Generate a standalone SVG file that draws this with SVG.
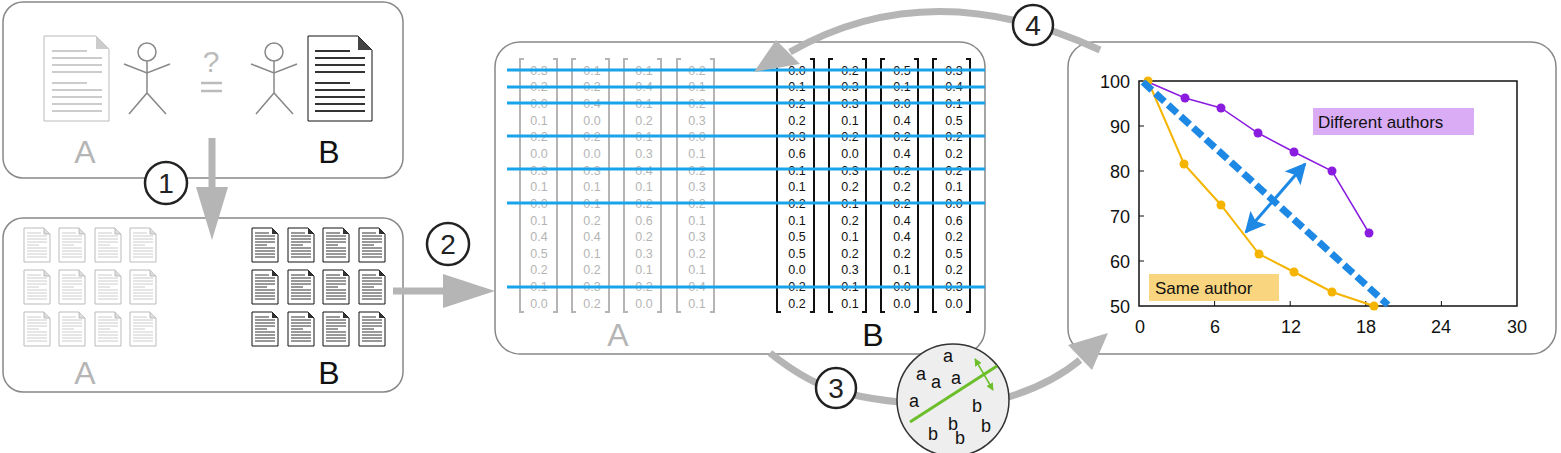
<svg xmlns="http://www.w3.org/2000/svg" width="1561" height="453" viewBox="0 0 1561 453">
<style>
.panel{fill:#fff;stroke:#888;stroke-width:1.5}
.t{font-family:"Liberation Sans",Arial,sans-serif}
.ga{fill:#b5b5b5}
.num{font-family:"Liberation Sans",Arial,sans-serif;font-size:12.5px;text-anchor:middle}
.big{font-family:"Liberation Sans",Arial,sans-serif;font-size:32px;text-anchor:middle}
.step{fill:#fff;stroke:#222;stroke-width:2.5}
.stepT{font-family:"Liberation Sans",Arial,sans-serif;font-size:28px;text-anchor:middle;fill:#222}
.flow{fill:none;stroke:#b5b5b5;stroke-width:7}
.bl{stroke:#19a3ea;stroke-width:3}
.brA{fill:none;stroke:#b5b5b5;stroke-width:2}
.brB{fill:none;stroke:#111;stroke-width:2}
.ax{font-family:"Liberation Sans",Arial,sans-serif;font-size:18px;fill:#111}
.lt{font-family:"Liberation Sans",Arial,sans-serif;font-size:17px;fill:#111}
</style>
<defs>
<g id="sdA"><path d="M0,0H20L26,6V34H0Z" fill="#fff" stroke="#bbb"/><path d="M20,0V6H26" fill="#ddd" stroke="#bbb"/><path d="M3,5H17M3,8H23M3,11H23M3,14H23M3,17H15M3,20H23M3,23H23M3,26H23M3,29H23" stroke="#ccc" stroke-width="1"/></g>
<g id="sdB"><path d="M0,0H20L26,6V34H0Z" fill="#fff" stroke="#111"/><path d="M20,0L26,6H20Z" fill="#333"/><path d="M3,5H17M3,8H23M3,11H23M3,14H23M3,17H15M3,20H23M3,23H23M3,26H23M3,29H23" stroke="#333" stroke-width="1"/></g>
<marker id="ah" viewBox="0 0 10 10" refX="9" refY="5" markerWidth="7" markerHeight="7" orient="auto-start-reverse"><path d="M0,0L10,5L0,10L2,5Z" fill="#1e88e5"/></marker>
<marker id="gh" viewBox="0 0 10 10" refX="9" refY="5" markerWidth="5" markerHeight="5" orient="auto-start-reverse"><path d="M0,0L10,5L0,10Z" fill="#6cbf2a"/></marker>
</defs>

<g id="panel-input">
<rect class="panel" x="3" y="2" width="400" height="176" rx="20"/>
<path d="M44,36H96L109,49V121H44Z" fill="#fff" stroke="#bbb"/><path d="M96,36V49H109Z" fill="#ccc"/>
<path d="M52,51H87M52,58H102M52,65H102M52,72H102M52,83H87M52,90H102M52,97H102M52,104H102M52,111H102" stroke="#ccc" stroke-width="2"/>
<g stroke="#888" stroke-width="1.5" fill="none"><circle cx="147" cy="52" r="9"/><path d="M147,61V93M124,64L147,73L170,64M129,114L147,93L166,114"/></g>
<text class="t" x="211" y="72" font-size="30" text-anchor="middle" fill="#bbb">?</text>
<path d="M201,83H222M201,91H222" stroke="#bbb" stroke-width="2.5"/>
<g stroke="#888" stroke-width="1.5" fill="none"><circle cx="274" cy="52" r="9"/><path d="M274,61V93M251,64L274,73L297,64M256,114L274,93L293,114"/></g>
<path d="M308,36H358L372,50V121H308Z" fill="#fff" stroke="#111"/><path d="M358,36L372,50H358Z" fill="#444"/>
<path d="M315,51H350M315,58H365M315,65H365M315,72H365M315,83H350M315,90H365M315,97H365M315,104H365M315,111H365" stroke="#333" stroke-width="2"/>
<text class="big ga" x="85" y="163">A</text><text class="big" x="329" y="163" fill="#111">B</text>
</g>

<g id="panel-docs">
<rect class="panel" x="3" y="218" width="400" height="174" rx="20"/>
<use href="#sdA" x="24" y="228"/><use href="#sdA" x="59" y="228"/><use href="#sdA" x="95" y="228"/><use href="#sdA" x="130" y="228"/>
<use href="#sdA" x="24" y="270"/><use href="#sdA" x="59" y="270"/><use href="#sdA" x="95" y="270"/><use href="#sdA" x="130" y="270"/>
<use href="#sdA" x="24" y="312"/><use href="#sdA" x="59" y="312"/><use href="#sdA" x="95" y="312"/><use href="#sdA" x="130" y="312"/>
<use href="#sdB" x="252" y="228"/><use href="#sdB" x="288" y="228"/><use href="#sdB" x="323" y="228"/><use href="#sdB" x="359" y="228"/>
<use href="#sdB" x="252" y="270"/><use href="#sdB" x="288" y="270"/><use href="#sdB" x="323" y="270"/><use href="#sdB" x="359" y="270"/>
<use href="#sdB" x="252" y="312"/><use href="#sdB" x="288" y="312"/><use href="#sdB" x="323" y="312"/><use href="#sdB" x="359" y="312"/>
<text class="big ga" x="85" y="384">A</text><text class="big" x="329" y="384" fill="#111">B</text>
</g>

<g id="panel-matrix">
<rect class="panel" x="495" y="42" width="490" height="312" rx="25"/>
<g class="brA">
<path d="M524,59H520V312H524M553,59H557V312H553"/><path d="M576,59H572V312H576M605,59H609V312H605"/>
<path d="M628,59H624V312H628M657,59H661V312H657"/><path d="M681,59H677V312H681M710,59H714V312H710"/>
</g>
<g class="brB">
<path d="M781,59H777V312H781M810,59H814V312H810"/><path d="M833,59H829V312H833M862,59H866V312H862"/>
<path d="M885,59H881V312H885M914,59H918V312H914"/><path d="M937,59H933V312H937M966,59H970V312H966"/>
</g>
<g class="num" fill="#b5b5b5">
<text x="539" y="75">0.3</text><text x="539" y="91">0.2</text><text x="539" y="108">0.0</text><text x="539" y="125">0.1</text><text x="539" y="141">0.2</text><text x="539" y="158">0.0</text><text x="539" y="175">0.3</text><text x="539" y="191">0.1</text><text x="539" y="208">0.0</text><text x="539" y="225">0.1</text><text x="539" y="241">0.4</text><text x="539" y="258">0.5</text><text x="539" y="274">0.2</text><text x="539" y="291">0.1</text><text x="539" y="308">0.0</text>
<text x="592" y="75">0.1</text><text x="592" y="91">0.2</text><text x="592" y="108">0.4</text><text x="592" y="125">0.0</text><text x="592" y="141">0.2</text><text x="592" y="158">0.0</text><text x="592" y="175">0.3</text><text x="592" y="191">0.1</text><text x="592" y="208">0.1</text><text x="592" y="225">0.2</text><text x="592" y="241">0.4</text><text x="592" y="258">0.1</text><text x="592" y="274">0.2</text><text x="592" y="291">0.3</text><text x="592" y="308">0.2</text>
<text x="644" y="75">0.1</text><text x="644" y="91">0.4</text><text x="644" y="108">0.1</text><text x="644" y="125">0.2</text><text x="644" y="141">0.1</text><text x="644" y="158">0.3</text><text x="644" y="175">0.4</text><text x="644" y="191">0.1</text><text x="644" y="208">0.2</text><text x="644" y="225">0.6</text><text x="644" y="241">0.2</text><text x="644" y="258">0.3</text><text x="644" y="274">0.1</text><text x="644" y="291">0.2</text><text x="644" y="308">0.0</text>
<text x="697" y="75">0.2</text><text x="697" y="91">0.1</text><text x="697" y="108">0.2</text><text x="697" y="125">0.3</text><text x="697" y="141">0.0</text><text x="697" y="158">0.1</text><text x="697" y="175">0.2</text><text x="697" y="191">0.3</text><text x="697" y="208">0.2</text><text x="697" y="225">0.1</text><text x="697" y="241">0.3</text><text x="697" y="258">0.2</text><text x="697" y="274">0.1</text><text x="697" y="291">0.4</text><text x="697" y="308">0.1</text>
</g>
<g class="num" fill="#111">
<text x="797" y="75">0.0</text><text x="797" y="91">0.1</text><text x="797" y="108">0.2</text><text x="797" y="125">0.2</text><text x="797" y="141">0.3</text><text x="797" y="158">0.6</text><text x="797" y="175">0.1</text><text x="797" y="191">0.1</text><text x="797" y="208">0.2</text><text x="797" y="225">0.1</text><text x="797" y="241">0.5</text><text x="797" y="258">0.5</text><text x="797" y="274">0.0</text><text x="797" y="291">0.2</text><text x="797" y="308">0.2</text>
<text x="850" y="75">0.2</text><text x="850" y="91">0.3</text><text x="850" y="108">0.3</text><text x="850" y="125">0.1</text><text x="850" y="141">0.2</text><text x="850" y="158">0.0</text><text x="850" y="175">0.3</text><text x="850" y="191">0.2</text><text x="850" y="208">0.1</text><text x="850" y="225">0.2</text><text x="850" y="241">0.1</text><text x="850" y="258">0.2</text><text x="850" y="274">0.3</text><text x="850" y="291">0.1</text><text x="850" y="308">0.1</text>
<text x="902" y="75">0.5</text><text x="902" y="91">0.1</text><text x="902" y="108">0.0</text><text x="902" y="125">0.4</text><text x="902" y="141">0.2</text><text x="902" y="158">0.4</text><text x="902" y="175">0.2</text><text x="902" y="191">0.2</text><text x="902" y="208">0.2</text><text x="902" y="225">0.4</text><text x="902" y="241">0.4</text><text x="902" y="258">0.2</text><text x="902" y="274">0.1</text><text x="902" y="291">0.0</text><text x="902" y="308">0.0</text>
<text x="954" y="75">0.3</text><text x="954" y="91">0.4</text><text x="954" y="108">0.1</text><text x="954" y="125">0.5</text><text x="954" y="141">0.2</text><text x="954" y="158">0.2</text><text x="954" y="175">0.2</text><text x="954" y="191">0.1</text><text x="954" y="208">0.0</text><text x="954" y="225">0.6</text><text x="954" y="241">0.2</text><text x="954" y="258">0.5</text><text x="954" y="274">0.2</text><text x="954" y="291">0.3</text><text x="954" y="308">0.0</text>
</g>
<g class="bl"><path d="M507,70H985M507,87H985M507,103H985M507,136H985M507,169H985M507,203H985M507,287H985"/></g>
<text class="big ga" x="618" y="346">A</text><text class="big" x="873" y="346" fill="#111">B</text>
</g>

<g id="panel-chart">
<rect class="panel" x="1068" y="42" width="488" height="312" rx="25"/>
<rect x="1139" y="81" width="378" height="225" fill="none" stroke="#111" stroke-width="1.5"/>
<path d="M1214.6,306v-5M1290.2,306v-5M1365.8,306v-5M1441.4,306v-5M1139,261h5M1139,216h5M1139,171h5M1139,126h5" stroke="#111"/>
<g class="ax" text-anchor="end"><text x="1130" y="88">100</text><text x="1130" y="133">90</text><text x="1130" y="178">80</text><text x="1130" y="223">70</text><text x="1130" y="268">60</text><text x="1130" y="313">50</text></g>
<g class="ax" text-anchor="middle"><text x="1140" y="333">0</text><text x="1215" y="333">6</text><text x="1291" y="333">12</text><text x="1366" y="333">18</text><text x="1441" y="333">24</text><text x="1517" y="333">30</text></g>
<rect x="1313" y="108" width="161" height="27" fill="#d9acf5"/><text class="lt" x="1318" y="128" fill="#333">Different authors</text>
<rect x="1149" y="274" width="130" height="27" fill="#f8d57e"/><text class="lt" x="1155" y="294" fill="#333">Same author</text>
<polyline points="1148,82 1185,98 1221,108 1258,133 1294,152 1332,171 1369,233" fill="none" stroke="#8a1ce0" stroke-width="1.5"/>
<g fill="#8a1ce0"><circle cx="1185" cy="98" r="4.5"/><circle cx="1221" cy="108" r="4.5"/><circle cx="1258" cy="133" r="4.5"/><circle cx="1294" cy="152" r="4.5"/><circle cx="1332" cy="171" r="4.5"/><circle cx="1369" cy="233" r="4.5"/></g>
<polyline points="1148,81 1184,164 1221,205 1259,254 1294,272 1332,292 1374,306" fill="none" stroke="#f5b400" stroke-width="2"/>
<g fill="#f5b400"><circle cx="1148" cy="81" r="4.5"/><circle cx="1184" cy="164" r="4.5"/><circle cx="1221" cy="205" r="4.5"/><circle cx="1259" cy="254" r="4.5"/><circle cx="1294" cy="272" r="4.5"/><circle cx="1332" cy="292" r="4.5"/><circle cx="1374" cy="306" r="4.5"/></g>
<path d="M1143,82L1388,305" stroke="#1e88e5" stroke-width="7" stroke-dasharray="12,5" fill="none"/>
<path d="M1246,232L1305,164" stroke="#1e88e5" stroke-width="3" marker-start="url(#ah)" marker-end="url(#ah)"/>
</g>

<g id="connectors">
<path class="flow" d="M212,138V190"/><path d="M196,187H228L212,240Z" fill="#b5b5b5"/>
<path class="flow" d="M393,291H445"/><path d="M443,274L495,291L443,308Z" fill="#b5b5b5"/>
<path class="flow" d="M1100,50Q930,-28 790,52"/><path d="M754,72L776,40L800,64Z" fill="#b5b5b5"/>
<path class="flow" d="M770,353Q810,385 845,393Q875,400 900,402"/>
<path class="flow" d="M1005,398Q1050,385 1080,360"/><path d="M1068,345L1108,333L1092,370Z" fill="#b5b5b5"/>
</g>

<g id="step1"><circle class="step" cx="166" cy="183" r="21"/><text class="stepT" x="166" y="193">1</text></g>
<g id="step2"><circle class="step" cx="448" cy="244" r="21"/><text class="stepT" x="448" y="254">2</text></g>
<g id="step3"><circle class="step" cx="836" cy="388" r="20"/><text class="stepT" x="836" y="398">3</text></g>
<g id="step4"><circle class="step" cx="1033" cy="25" r="20"/><text class="stepT" x="1033" y="35">4</text></g>

<g id="scatter">
<circle cx="953" cy="400" r="56" fill="#eee" stroke="#333" stroke-width="1.5"/>
<g class="t" font-size="18" fill="#111" text-anchor="middle">
<text x="948" y="362">a</text><text x="921" y="380">a</text><text x="936" y="388">a</text><text x="956" y="384">a</text><text x="914" y="407">a</text>
<text x="977" y="412">b</text><text x="933" y="440">b</text><text x="953" y="430">b</text><text x="960" y="444">b</text><text x="986" y="432">b</text>
</g>
<path d="M910,422L997,366" stroke="#6cbf2a" stroke-width="3"/>
<path d="M975,359L993,390" stroke="#6cbf2a" stroke-width="1.5" marker-start="url(#gh)" marker-end="url(#gh)"/>
</g>
</svg>
